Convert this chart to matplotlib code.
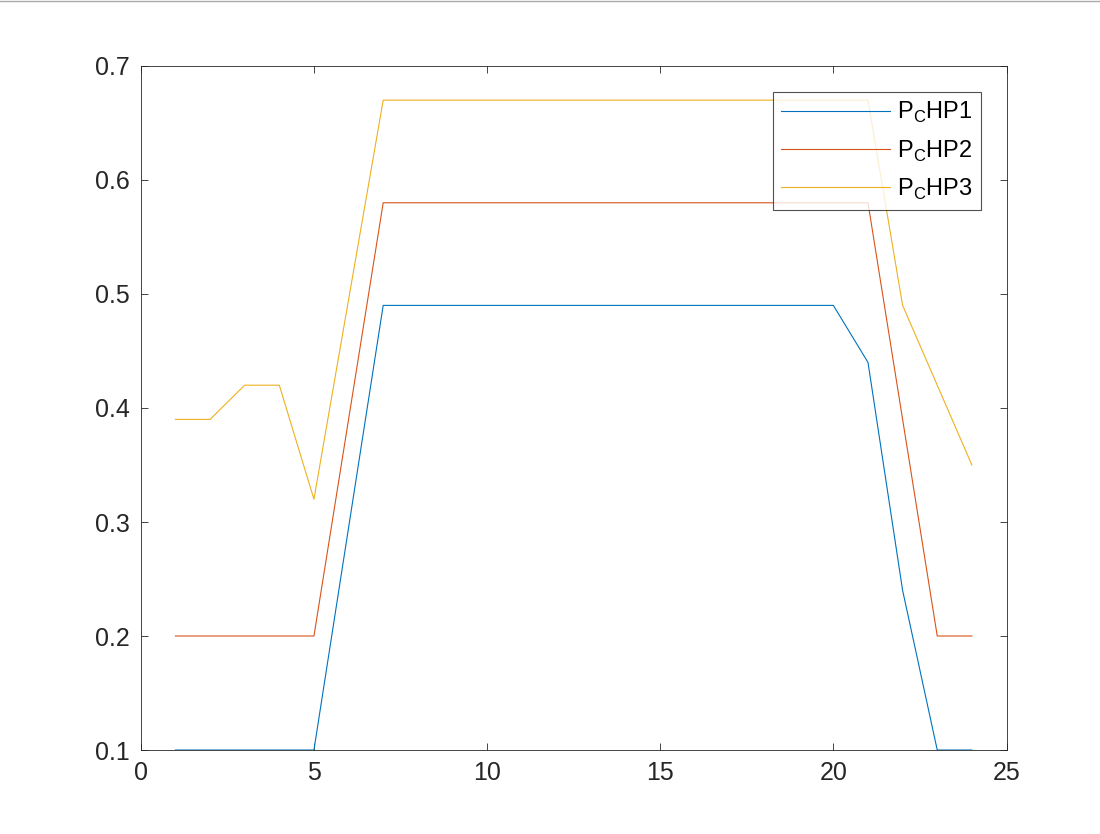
import numpy as np
import matplotlib
matplotlib.use("Agg")
import matplotlib.pyplot as plt

plt.rcParams['font.family'] = ['Liberation Sans', 'DejaVu Sans']
plt.rcParams['mathtext.fontset'] = 'custom'
plt.rcParams['mathtext.rm'] = 'Liberation Sans'

hours = np.arange(1, 25)
hp1 = [0.1, 0.1, 0.1, 0.1, 0.1, 0.295, 0.49, 0.49, 0.49, 0.49, 0.49, 0.49,
       0.49, 0.49, 0.49, 0.49, 0.49, 0.49, 0.49, 0.49, 0.44, 0.24, 0.1, 0.1]
hp2 = [0.2, 0.2, 0.2, 0.2, 0.2, 0.39, 0.58, 0.58, 0.58, 0.58, 0.58, 0.58,
       0.58, 0.58, 0.58, 0.58, 0.58, 0.58, 0.58, 0.58, 0.58, 0.39, 0.2, 0.2]
hp3 = [0.39, 0.39, 0.42, 0.42, 0.32, 0.495, 0.67, 0.67, 0.67, 0.67, 0.67, 0.67,
       0.67, 0.67, 0.67, 0.67, 0.67, 0.67, 0.67, 0.67, 0.67, 0.49, 0.42, 0.35]
labels = [r'P$_{\rm C}$HP1', r'P$_{\rm C}$HP2', r'P$_{\rm C}$HP3']
colors = ['#0072BD', '#D95319', '#EDB120']

fig = plt.figure(figsize=(11, 8.34), dpi=100)
ax = fig.add_axes([0.128, 0.1007, 0.787, 0.8202])
for y, lab, c in zip([hp1, hp2, hp3], labels, colors):
    ax.plot(hours, y, color=c, lw=0.8, label=lab)

ax.set_xlim(0, 25)
ax.set_ylim(0.1, 0.7)
ax.set_xticks([0, 5, 10, 15, 20, 25])
ax.set_yticks(np.arange(0.1, 0.71, 0.1))
ax.tick_params(direction='in', top=True, right=True, labelsize=18, colors='#262626',
               length=5, width=0.6, pad=8)
for s in ax.spines.values():
    s.set_linewidth(0.6)
    s.set_color('#262626')

leg = ax.legend(loc='upper right', fontsize=17, frameon=True, fancybox=False,
                handlelength=4.6, handletextpad=0.3, borderaxespad=1.1,
                labelspacing=0.55, borderpad=0.35)
leg.get_frame().set_edgecolor('#262626')
leg.get_frame().set_linewidth(0.8)

fig.add_artist(plt.Line2D([0, 1], [0.999, 0.999], color='#aaaaaa', lw=1))
fig.savefig('out.png')
